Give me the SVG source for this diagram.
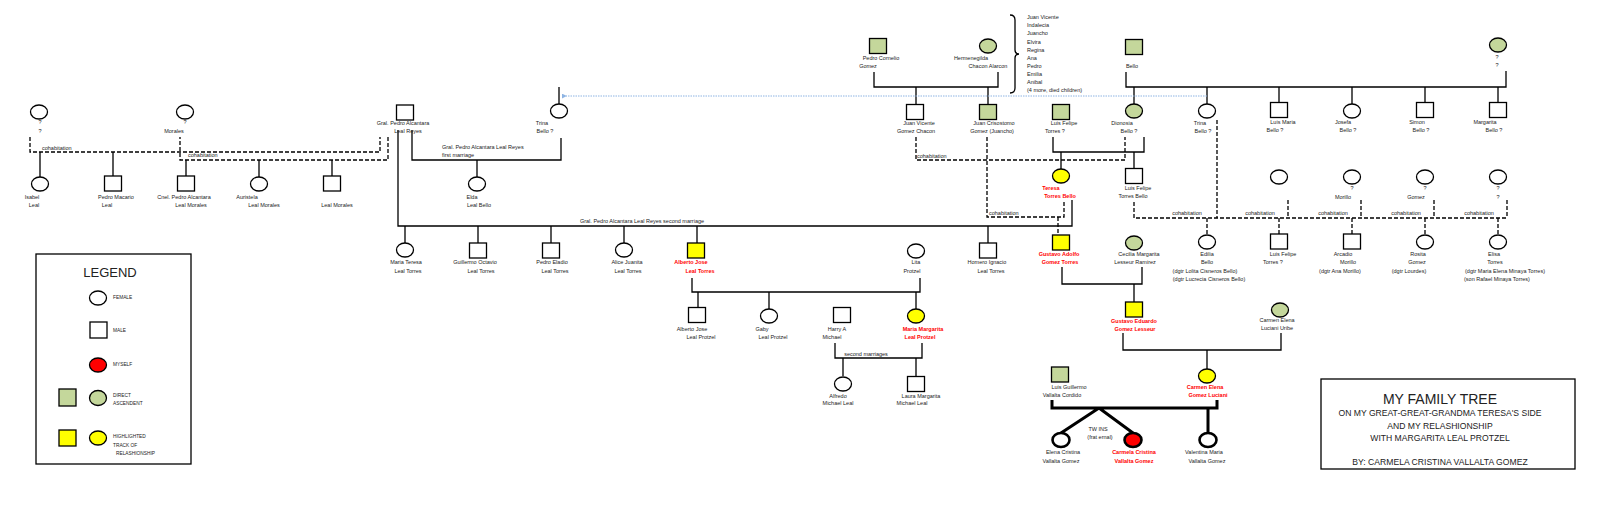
<svg xmlns="http://www.w3.org/2000/svg" width="1600" height="516" viewBox="0 0 1600 516">
<style>
text{font-family:"Liberation Sans",Arial,sans-serif;font-size:5.5px;fill:#222;text-anchor:middle;dominant-baseline:middle}
.l{text-anchor:start}
.h{fill:#ff0000;font-weight:bold}
.m,.f{fill:#fff;stroke:#000;stroke-width:1.3}
.g{fill:#c4d79b}.y{fill:#ffff00}.r{fill:#ff0000}
.k{stroke-width:2.6}
.c path{fill:none;stroke:#000;stroke-width:1.3}
.c .d{stroke-dasharray:4 2}
.c .t{stroke-width:3}
.c .b{stroke:#8eb4e3;stroke-width:1;stroke-dasharray:1.5 1}
.box{fill:#fff;stroke:#000;stroke-width:1.3}
.lg{font-size:4.8px}
</style>
<defs><marker id="ar" viewBox="0 0 6 6" refX="1" refY="3" markerWidth="5" markerHeight="5" orient="auto"><path d="M6 0L0 3L6 6z" fill="#8eb4e3"/></marker></defs>
<rect width="1600" height="516" fill="#fff"/>
<g class="c" id="connectors">
<path d="M874 72V87H998V72M916 87V104M988 87V104"/>
<path d="M1126 72V87H1506V71M1134 87V104M1207 87V104M1279 87V103M1352 87V104M1425 87V103M1498 87V103"/>
<path d="M1053 137V152H1144V137M1061 152V169M1134 152V168"/>
<path class="d" d="M916 137V160H1125V137"/>
<path class="d" d="M987 137V217H1064V202M1058 217V235"/>
<path d="M1072 200V226H398V130M405 226V243M478 226V243M551 226V243M624 226V243M697 226V243M988 226V243"/>
<path d="M412 130V160H561V138M477 160V177M559 87V104"/>
<path class="d" d="M30 137V152H380V137M388 137V160H180V137"/>
<path d="M40 152V177M113 152V176M186 160V176M259 160V177M332 160V176"/>
<path d="M692 278V292H920V278M698 292V307M769 292V309M916 292V309"/>
<path d="M835 343V358H922V343M843 358V376M916 358V376"/>
<path d="M1062 267V284H1142V267M1134 284V302"/>
<path d="M1123 333V350H1281V333M1207 350V369"/>
<path class="t" d="M1052 400V408H1217V400M1099 408L1061 433M1099 408L1133 433M1208 408V433"/>
<path class="d" d="M1217 120V218M1134 202V218H1507M1288 200V218M1361 200V218M1434 200V218M1507 200V218M1207 218V235M1279 218V234M1352 218V234M1425 218V235M1498 218V235"/>
<path class="b" d="M1207 96H566" marker-end="url(#ar)"/>
<path d="M1010 15Q1015 15 1015 20V50Q1015 54 1019 54Q1015 54 1015 58V88Q1015 93 1010 93" stroke-width="0.9"/>
<text x="917" y="157" class="l">cohabitation</text>
<text x="989" y="214" class="l">cohabitation</text>
<text x="42" y="149" class="l">cohabitation</text>
<text x="188" y="156" class="l">cohabitation</text>
<text x="442" y="148" class="l">Gral. Pedro Alcantara Leal Reyes</text>
<text x="442" y="156" class="l">first marriage</text>
<text x="642" y="222">Gral. Pedro Alcantara Leal Reyes second marriage</text>
<text x="866" y="355">second marriages</text>
<text x="1187" y="214">cohabitation</text><text x="1260" y="214">cohabitation</text><text x="1333" y="214">cohabitation</text><text x="1406" y="214">cohabitation</text><text x="1479" y="214">cohabitation</text>
<text x="1098" y="430">TW INS</text><text x="1100" y="438">(frat ernal)</text>
</g>
<g id="siblings-list">
<text class="l" x="1027" y="18">Juan Vicente</text><text class="l" x="1027" y="26">Indalecia</text><text class="l" x="1027" y="34">Juancho</text><text class="l" x="1027" y="42.5">Elvira</text><text class="l" x="1027" y="50.5">Regina</text><text class="l" x="1027" y="59">Ana</text><text class="l" x="1027" y="67">Pedro</text><text class="l" x="1027" y="75">Emilia</text><text class="l" x="1027" y="83">Anibal</text><text class="l" x="1027" y="91">(4 more, died children)</text>
</g>
<g id="pedroCornelio"><rect class="m g" x="869.5" y="38.5" width="17" height="15"/><text x="881" y="59">Pedro  Cornelio</text><text x="868" y="67">Gomez</text></g>
<g id="hermenegilda"><ellipse class="f g" cx="988" cy="46" rx="8.5" ry="7"/><text x="971" y="59">Hermenegilda</text><text x="988" y="67">Chacon  Alarcon</text></g>
<g id="bello"><rect class="m g" x="1125.5" y="39.5" width="17" height="15"/><text x="1132" y="67">Bello</text></g>
<g id="greatGrandmaRight"><ellipse class="f g" cx="1498" cy="45" rx="8.5" ry="7"/><text x="1497" y="58">?</text><text x="1497" y="66">?</text></g>
<g id="juanVicente"><rect class="m" x="906.5" y="104.5" width="17" height="15"/><text x="919" y="124">Juan  Vicente</text><text x="916" y="132">Gomez  Chacon</text></g>
<g id="juanCrisostomo"><rect class="m g" x="979.5" y="104.5" width="17" height="15"/><text x="994" y="124">Juan  Crisostomo</text><text x="992" y="132">Gomez  (Juancho)</text></g>
<g id="luisFelipeTorres"><rect class="m g" x="1052.5" y="104.5" width="17" height="15"/><text x="1064" y="124">Luis  Felipe</text><text x="1055" y="132">Torres  ?</text></g>
<g id="dionosia"><ellipse class="f g" cx="1134" cy="111" rx="8.5" ry="7"/><text x="1122" y="124">Dionosia</text><text x="1129" y="132">Bello  ?</text></g>
<g id="trinaBelloRight"><ellipse class="f" cx="1207" cy="111" rx="8.5" ry="7"/><text x="1200" y="124">Trina</text><text x="1203" y="132">Bello  ?</text></g>
<g id="luisMaria"><rect class="m" x="1270.5" y="102.5" width="17" height="15"/><text x="1283" y="123">Luis  Maria</text><text x="1275" y="131">Bello  ?</text></g>
<g id="josefa"><ellipse class="f" cx="1352" cy="111" rx="8.5" ry="7"/><text x="1343" y="123">Josefa</text><text x="1348" y="131">Bello  ?</text></g>
<g id="simon"><rect class="m" x="1416.5" y="102.5" width="17" height="15"/><text x="1417" y="123">Simon</text><text x="1421" y="131">Bello  ?</text></g>
<g id="margarita"><rect class="m" x="1489.5" y="102.5" width="17" height="15"/><text x="1485" y="123">Margarita</text><text x="1494" y="131">Bello  ?</text></g>
<g id="q1"><ellipse class="f" cx="39" cy="112" rx="8.5" ry="7"/><text x="40" y="123">?</text><text x="40" y="132">?</text></g>
<g id="morales"><ellipse class="f" cx="185" cy="112" rx="8.5" ry="7"/><text x="185" y="123">?</text><text x="174" y="132">Morales</text></g>
<g id="gralPedro"><rect class="m" x="396.5" y="105" width="17" height="15"/><text x="403" y="124">Gral. Pedro  Alcantara</text><text x="408" y="132">Leal  Reyes</text></g>
<g id="trinaBelloLeft"><ellipse class="f" cx="559" cy="111" rx="8.5" ry="7"/><text x="542" y="124">Trina</text><text x="545" y="132">Bello  ?</text></g>
<g id="isabel"><ellipse class="f" cx="40" cy="184" rx="8.5" ry="7"/><text x="32" y="198">Isabel</text><text x="34" y="206">Leal</text></g>
<g id="pedroMacario"><rect class="m" x="104.5" y="176" width="17" height="15"/><text x="116" y="198">Pedro  Macario</text><text x="107" y="206">Leal</text></g>
<g id="cnelPedro"><rect class="m" x="177.5" y="176" width="17" height="15"/><text x="184" y="198">Cnel. Pedro  Alcantara</text><text x="191" y="206">Leal  Morales</text></g>
<g id="auristela"><ellipse class="f" cx="259" cy="184" rx="8.5" ry="7"/><text x="247" y="198">Auristela</text><text x="264" y="206">Leal  Morales</text></g>
<g id="lealMorales"><rect class="m" x="323.5" y="176" width="17" height="15"/><text x="337" y="206">Leal Morales</text></g>
<g id="elda"><ellipse class="f" cx="477" cy="184" rx="8.5" ry="7"/><text x="472" y="198">Elda</text><text x="479" y="206">Leal Bello</text></g>
<g id="teresa"><ellipse class="f y" cx="1061" cy="176" rx="8.5" ry="7"/><text class="h" x="1051" y="189">Teresa</text><text class="h" x="1060" y="197">Torres  Bello</text></g>
<g id="luisFelipeTorresBello"><rect class="m" x="1125.5" y="168.5" width="17" height="15"/><text x="1138" y="189">Luis  Felipe</text><text x="1133" y="197">Torres  Bello</text></g>
<g id="motherLF"><ellipse class="f" cx="1279" cy="177" rx="8.5" ry="7"/></g>
<g id="morilloQ"><ellipse class="f" cx="1352" cy="177" rx="8.5" ry="7"/><text x="1352" y="189">?</text><text x="1343" y="198">Morillo</text></g>
<g id="gomezQ"><ellipse class="f" cx="1425" cy="177" rx="8.5" ry="7"/><text x="1425" y="189">?</text><text x="1416" y="198">Gomez</text></g>
<g id="qq"><ellipse class="f" cx="1498" cy="177" rx="8.5" ry="7"/><text x="1498" y="189">?</text><text x="1498" y="198">?</text></g>
<g id="mariaTeresa"><ellipse class="f" cx="405" cy="250" rx="8.5" ry="7"/><text x="406" y="263">Maria Teresa</text><text x="408" y="272">Leal Torres</text></g>
<g id="guillermo"><rect class="m" x="469.5" y="243" width="17" height="15"/><text x="475" y="263">Guillermo Octavio</text><text x="481" y="272">Leal Torres</text></g>
<g id="pedroEladio"><rect class="m" x="542.5" y="243" width="17" height="15"/><text x="552" y="263">Pedro Eladio</text><text x="555" y="272">Leal Torres</text></g>
<g id="alice"><ellipse class="f" cx="624" cy="250" rx="8.5" ry="7"/><text x="627" y="263">Alice Juanita</text><text x="628" y="272">Leal Torres</text></g>
<g id="albertoJose"><rect class="m y" x="687.5" y="243" width="17" height="15"/><text class="h" x="691" y="263">Alberto  Jose</text><text class="h" x="700" y="272">Leal Torres</text></g>
<g id="lita"><ellipse class="f" cx="916" cy="251" rx="8.5" ry="7"/><text x="916" y="263">Lita</text><text x="912" y="272">Protzel</text></g>
<g id="homero"><rect class="m" x="979.5" y="243" width="17" height="15"/><text x="987" y="263">Homero  Ignacio</text><text x="991" y="272">Leal  Torres</text></g>
<g id="gustavoAdolfo"><rect class="m y" x="1052.5" y="235" width="17" height="15"/><text class="h" x="1059" y="255">Gustavo  Adolfo</text><text class="h" x="1060" y="263">Gomez  Torres</text></g>
<g id="cecilia"><ellipse class="f g" cx="1134" cy="243" rx="8.5" ry="7"/><text x="1139" y="255">Cecilia  Margarita</text><text x="1135" y="263">Lesseur  Ramirez</text></g>
<g id="edilia"><ellipse class="f" cx="1207" cy="242" rx="8.5" ry="7"/><text x="1207" y="255">Edilia</text><text x="1207" y="263">Bello</text><text x="1205" y="272">(dgtr  Lolita Cisneros Bello)</text><text x="1209" y="280">(dgtr  Lucrecia Cisneros Bello)</text></g>
<g id="luisFelipeT2"><rect class="m" x="1270.5" y="234" width="17" height="15"/><text x="1283" y="255">Luis  Felipe</text><text x="1273" y="263">Torres  ?</text></g>
<g id="arcadio"><rect class="m" x="1343.5" y="234" width="17" height="15"/><text x="1343" y="255">Arcadio</text><text x="1348" y="263">Morillo</text><text x="1340" y="272">(dgtr  Ana Morillo)</text></g>
<g id="rosita"><ellipse class="f" cx="1425" cy="242" rx="8.5" ry="7"/><text x="1418" y="255">Rosita</text><text x="1417" y="263">Gomez</text><text x="1409" y="272">(dgtr  Lourdes)</text></g>
<g id="elisa"><ellipse class="f" cx="1498" cy="242" rx="8.5" ry="7"/><text x="1494" y="255">Elisa</text><text x="1495" y="263">Torres</text><text x="1505" y="272">(dgtr Maria Elena Minaya Torres)</text><text x="1497" y="280">(son Rafael Minaya Torres)</text></g>
<g id="albertoJoseProtzel"><rect class="m" x="688.5" y="307.5" width="17" height="15"/><text x="692" y="330">Alberto  Jose</text><text x="701" y="338">Leal Protzel</text></g>
<g id="gaby"><ellipse class="f" cx="769" cy="316" rx="8.5" ry="7"/><text x="762" y="330">Gaby</text><text x="773" y="338">Leal Protzel</text></g>
<g id="harry"><rect class="m" x="833.5" y="307.5" width="17" height="15"/><text x="837" y="330">Harry A</text><text x="832" y="338">Michael</text></g>
<g id="mariaMargarita"><ellipse class="f y" cx="916" cy="316" rx="8.5" ry="7"/><text class="h" x="923" y="330">Maria Margarita</text><text class="h" x="920" y="338">Leal Protzel</text></g>
<g id="gustavoEduardo"><rect class="m y" x="1125.5" y="302" width="17" height="15"/><text class="h" x="1134" y="322">Gustavo  Eduardo</text><text class="h" x="1135" y="330">Gomez  Lesseur</text></g>
<g id="carmenLuciani"><ellipse class="f g" cx="1280" cy="310" rx="8.5" ry="7"/><text x="1277" y="321">Carmen  Elena</text><text x="1277" y="329">Luciani  Uribe</text></g>
<g id="alfredo"><ellipse class="f" cx="843" cy="384" rx="8.5" ry="7"/><text x="838" y="397">Alfredo</text><text x="838" y="404">Michael Leal</text></g>
<g id="lauraMargarita"><rect class="m" x="907.5" y="376.5" width="17" height="15"/><text x="921" y="397">Laura Margarita</text><text x="912" y="404">Michael Leal</text></g>
<g id="luisGuillermo"><rect class="m g" x="1051.5" y="367" width="17" height="15"/><text x="1069" y="388">Luis   Guillermo</text><text x="1062" y="396">Vallalta  Cordido</text></g>
<g id="carmenGomez"><ellipse class="f y" cx="1207" cy="376" rx="8.5" ry="7"/><text class="h" x="1205" y="388">Carmen  Elena</text><text class="h" x="1208" y="396">Gomez  Luciani</text></g>
<g id="elenaCristina"><ellipse class="f k" cx="1061" cy="440" rx="8.5" ry="7"/><text x="1063" y="453">Elena  Cristina</text><text x="1061" y="462">Vallalta  Gomez</text></g>
<g id="carmela"><ellipse class="f r k" cx="1133" cy="440" rx="8.5" ry="7"/><text class="h" x="1134" y="453">Carmela  Cristina</text><text class="h" x="1134" y="462">Vallalta  Gomez</text></g>
<g id="valentina"><ellipse class="f k" cx="1208" cy="440" rx="8.5" ry="7"/><text x="1204" y="453">Valentina  Maria</text><text x="1207" y="462">Vallalta  Gomez</text></g>
<g id="legend">
<rect class="box" x="36" y="254" width="155" height="210"/>
<text x="110" y="274" style="font-size:13px">LEGEND</text>
<ellipse class="f" cx="98" cy="298" rx="8.5" ry="7"/><text class="l lg" x="113" y="298">FEMALE</text>
<rect class="m" x="90" y="322" width="17" height="16"/><text class="l lg" x="113" y="331">MALE</text>
<ellipse class="f r" cx="98" cy="365" rx="8.5" ry="7"/><text class="l lg" x="113" y="365">MYSELF</text>
<rect class="m g" x="59" y="389" width="17" height="17"/><ellipse class="f g" cx="98" cy="398" rx="8.5" ry="7.5"/><text class="l lg" x="113" y="396">DIRECT</text><text class="l lg" x="113" y="404">ASCENDENT</text>
<rect class="m y" x="59" y="430" width="17" height="16"/><ellipse class="f y" cx="98" cy="438" rx="8.5" ry="7"/><text class="l lg" x="113" y="437">HIGHLIGHTED</text><text class="l lg" x="113" y="446">TRACK OF</text><text class="l lg" x="116" y="454">RELASHIONSHIP</text>
</g>
<g id="title">
<rect class="box" x="1321" y="379" width="254" height="90"/>
<text x="1440" y="400" style="font-size:14px">MY FAMILY TREE</text>
<text x="1440" y="414" style="font-size:8.6px">ON MY GREAT-GREAT-GRANDMA TERESA'S SIDE</text>
<text x="1440" y="427" style="font-size:8.6px">AND MY RELASHIONSHIP</text>
<text x="1440" y="439" style="font-size:8.6px">WITH  MARGARITA LEAL PROTZEL</text>
<text x="1440" y="463" style="font-size:8.6px">BY: CARMELA CRISTINA  VALLALTA GOMEZ</text>
</g>
</svg>
